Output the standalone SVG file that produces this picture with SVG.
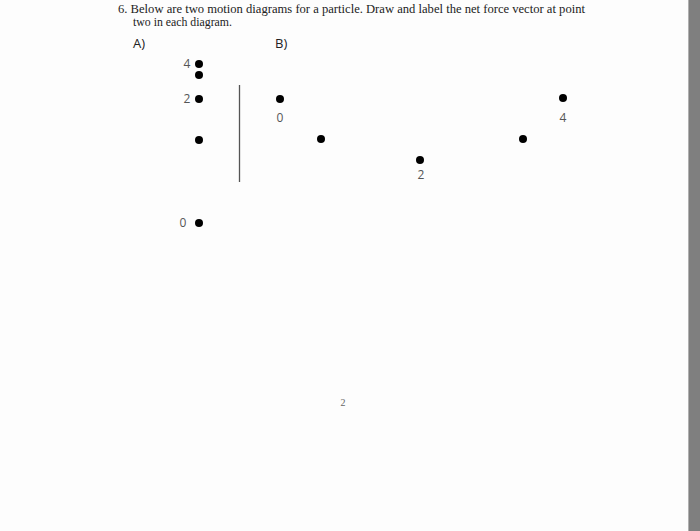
<svg xmlns="http://www.w3.org/2000/svg" width="700" height="531" viewBox="0 0 700 531">
<style>
.q{font-family:"Liberation Serif","DejaVu Serif",serif;font-size:11.5px;fill:#222}
.h{font-family:"Open Sans","Liberation Sans",sans-serif;font-size:13px;fill:#222}
.n{font-family:"Open Sans","Liberation Sans",sans-serif;font-size:12px;fill:#555;text-anchor:middle}
.d{fill:#000}
</style>
<rect width="700" height="531" fill="#fdfdfd"/>
<rect x="688" y="0" width="12" height="531" fill="#7f7f7f"/>
<line x1="688.5" y1="0" x2="688.5" y2="531" stroke="#b0b0b0" stroke-width="1"/>
<text class="q" x="118" y="13" textLength="467" lengthAdjust="spacingAndGlyphs">6. Below are two motion diagrams for a particle. Draw and label the net force vector at point</text>
<text class="q" x="133" y="26" textLength="99" lengthAdjust="spacingAndGlyphs">two in each diagram.</text>
<text class="h" x="133" y="48">A)</text>
<text class="h" x="275" y="48">B)</text>
<g id="diagramA">
<circle class="d" cx="199" cy="64" r="4"/>
<circle class="d" cx="199" cy="75" r="4"/>
<circle class="d" cx="199" cy="99" r="4"/>
<circle class="d" cx="199" cy="140" r="4"/>
<circle class="d" cx="199" cy="223" r="4"/>
<text class="n" x="187" y="68">4</text>
<text class="n" x="187" y="103">2</text>
<text class="n" x="183" y="227">0</text>
</g>
<line x1="239.5" y1="85" x2="239.5" y2="182" stroke="#555" stroke-width="1.3"/>
<g id="diagramB">
<circle class="d" cx="280" cy="99" r="4"/>
<circle class="d" cx="321" cy="139" r="4"/>
<circle class="d" cx="420" cy="160" r="4"/>
<circle class="d" cx="523" cy="139" r="4"/>
<circle class="d" cx="563" cy="98" r="4"/>
<text class="n" x="280" y="122">0</text>
<text class="n" x="421" y="179">2</text>
<text class="n" x="563" y="122">4</text>
</g>
<text x="343" y="406" text-anchor="middle" style="font-family:'Liberation Serif','DejaVu Serif',serif;fill:#666;font-size:10px">2</text>
</svg>
